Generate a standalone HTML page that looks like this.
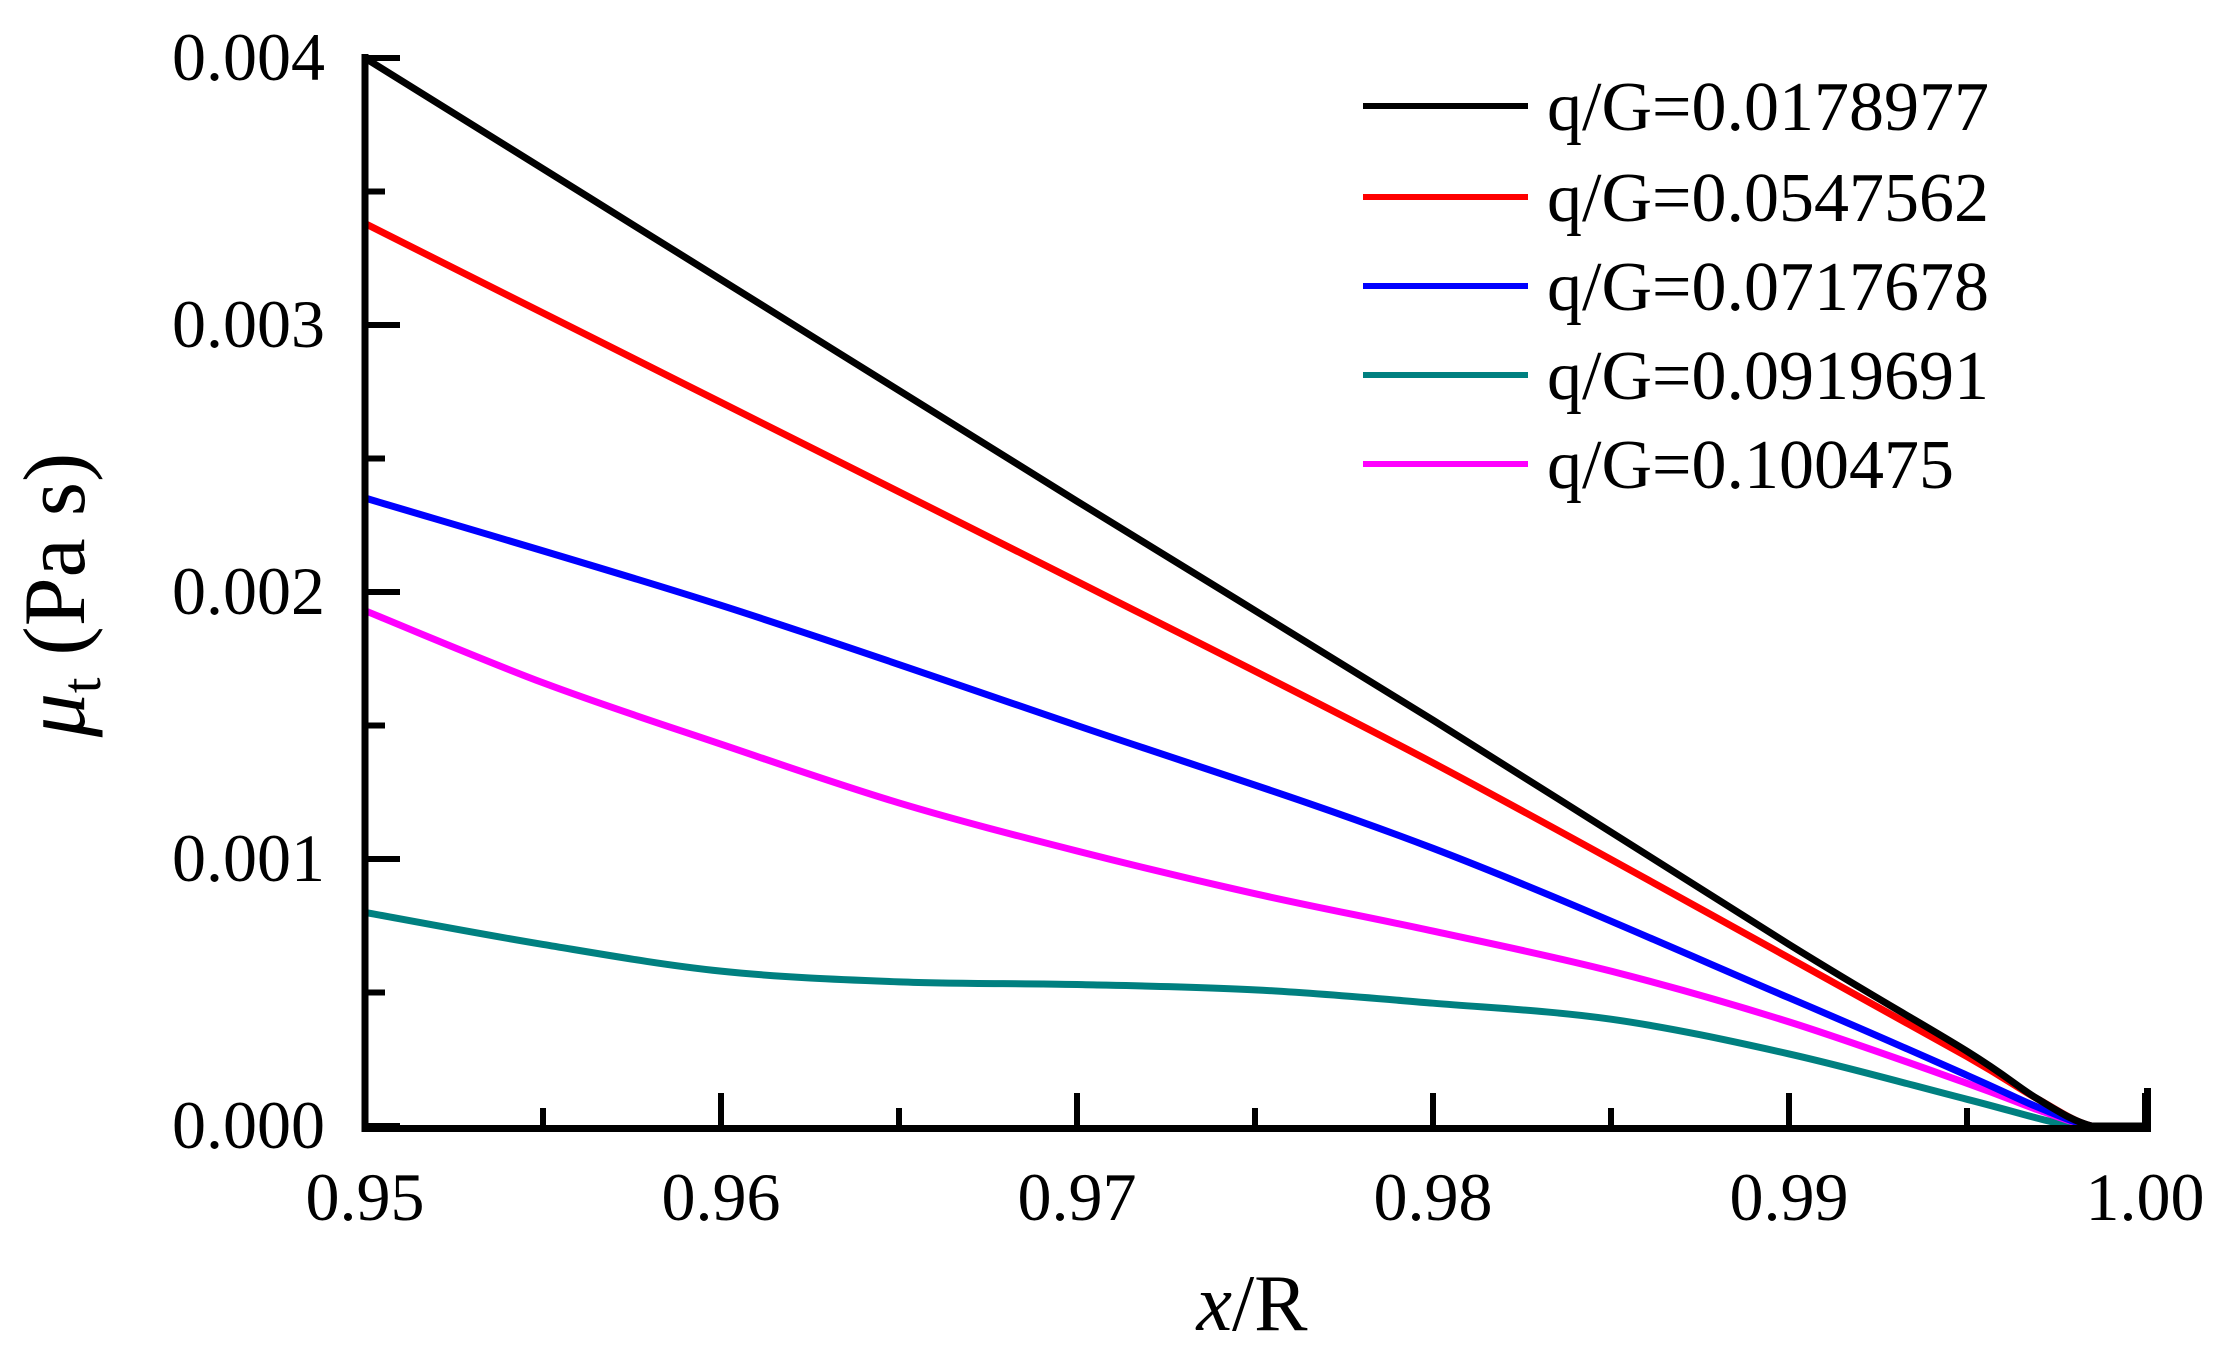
<!DOCTYPE html>
<html><head><meta charset="utf-8"><style>
html,body{margin:0;padding:0;background:#fff;}
svg{display:block;}
text{font-family:"Liberation Serif","Times New Roman",serif;fill:#000;}
</style></head><body>
<svg id="s" width="2219" height="1353" viewBox="0 0 2219 1353" xmlns="http://www.w3.org/2000/svg">
<g id="curves" fill="none" stroke-width="7" stroke-linejoin="round" stroke-linecap="round"></g>
<g stroke="#000" stroke-width="7" fill="none">
<path d="M365,54 V1128.5 H2147.5 V1088"/>
</g>
<g id="ticks" stroke="#000" stroke-width="6"></g>
<g font-size="68">
<text x="325" y="80" text-anchor="end">0.004</text>
<text x="325" y="347" text-anchor="end">0.003</text>
<text x="325" y="614" text-anchor="end">0.002</text>
<text x="325" y="881" text-anchor="end">0.001</text>
<text x="325" y="1148" text-anchor="end">0.000</text>
<text x="365" y="1220" text-anchor="middle">0.95</text>
<text x="721" y="1220" text-anchor="middle">0.96</text>
<text x="1077" y="1220" text-anchor="middle">0.97</text>
<text x="1433" y="1220" text-anchor="middle">0.98</text>
<text x="1789" y="1220" text-anchor="middle">0.99</text>
<text x="2145" y="1220" text-anchor="middle">1.00</text>
</g>
<text x="1252" y="1330" font-size="80" text-anchor="middle"><tspan font-style="italic">x</tspan>/R</text>
<text transform="translate(84,595) rotate(-90)" font-size="88" text-anchor="middle"><tspan font-style="italic">μ</tspan><tspan font-size="56" dy="16">t</tspan><tspan dy="-16">  (Pa s)</tspan></text>
<g stroke-width="6">
<line x1="1363" y1="106" x2="1528" y2="106" stroke="#000"/>
<line x1="1363" y1="197" x2="1528" y2="197" stroke="#ff0000"/>
<line x1="1363" y1="286" x2="1528" y2="286" stroke="#0000ff"/>
<line x1="1363" y1="375" x2="1528" y2="375" stroke="#008080"/>
<line x1="1363" y1="464" x2="1528" y2="464" stroke="#ff00ff"/>
</g>
<g font-size="70">
<text x="1547" y="130">q/G=0.0178977</text>
<text x="1547" y="221">q/G=0.0547562</text>
<text x="1547" y="310">q/G=0.0717678</text>
<text x="1547" y="399">q/G=0.0919691</text>
<text x="1547" y="488">q/G=0.100475</text>
</g>
</svg>
<script>
var X=function(x){return 365+(x-0.95)*35600;},Y=function(v){return 1126-v*267000;};
var series=[
["#000",[[.95,.004],[.96,.00317],[.97,.00234],[.98,.00152],[.99,.00068],[.995,.00028],[.997,.0001],[.9985,0],[1,0]]],
["#ff0000",[[.95,.00338],[.96,.00271],[.97,.00204],[.98,.00136],[.99,.00063],[.995,.00026],[.997,.0001],[.9985,0],[1,0]]],
["#0000ff",[[.95,.002352],[.96,.00195],[.97,.0015],[.98,.00104],[.99,.00048],[.995,.00019],[.997,.00007],[.9985,0],[1,0]]],
["#008080",[[.95,.0008],[.955,.00068],[.96,.00058],[.965,.00054],[.97,.00053],[.975,.00051],[.98,.00046],[.985,.0004],[.99,.00027],[.995,.0001],[.998,0],[1,0]]],
["#ff00ff",[[.95,.00193],[.955,.00166],[.96,.00143],[.965,.00121],[.97,.00103],[.975,.00087],[.98,.00073],[.985,.00058],[.99,.00039],[.995,.00016],[.997,.00006],[.9985,0],[1,0]]]
];
var order=[3,4,2,1,0],g=document.getElementById('curves'),ns="http://www.w3.org/2000/svg";
order.forEach(function(i){var c=series[i][0],p=series[i][1].map(function(a){return [X(a[0]),Y(a[1])];});
var d="M"+p[0][0]+","+p[0][1];
for(var k=0;k<p.length-1;k++){var p0=p[k-1]||p[k],p1=p[k],p2=p[k+1],p3=p[k+2]||p2;
var y1=Math.min(1126,p1[1]+(p2[1]-p0[1])/6),y2=Math.min(1126,p2[1]-(p3[1]-p1[1])/6);
d+=" C"+(p1[0]+(p2[0]-p0[0])/6)+","+y1+" "+(p2[0]-(p3[0]-p1[0])/6)+","+y2+" "+p2[0]+","+p2[1];}
var e=document.createElementNS(ns,'path');e.setAttribute('d',d);e.setAttribute('stroke',c);g.appendChild(e);});
var t=document.getElementById('ticks');
function ln(a,b,c,d){var e=document.createElementNS(ns,'line');e.setAttribute('x1',a);e.setAttribute('y1',b);e.setAttribute('x2',c);e.setAttribute('y2',d);t.appendChild(e);}
for(var i=0;i<=8;i++){var y=1126-i*133.5;ln(365,y,i%2?385:400,y);}
for(var i=0;i<=10;i++){var x=365+i*178;ln(x,1128,x,i%2?1108:1093);}
</script>
</body></html>
